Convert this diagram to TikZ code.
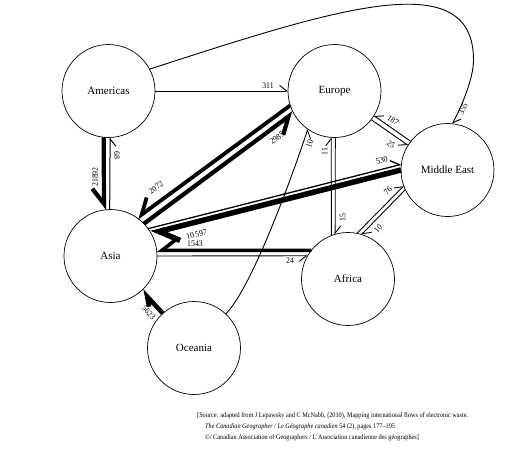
\documentclass[tikz,border=0pt]{standalone}
\usepackage{fontspec}
\setmainfont{Liberation Serif}
\newfontfamily\capfont[FakeStretch=0.89]{Liberation Serif}
\newfontfamily\numfont[FakeStretch=0.92]{Liberation Serif}
\usetikzlibrary{arrows.meta}
\begin{document}
\begin{tikzpicture}[x=1pt,y=-1pt,
  region/.style={circle, draw, line width=0.7pt, minimum size=93pt, inner sep=0pt, outer sep=0pt, font=\fontsize{11}{13}\selectfont},
  fl/.style={line width=#1},
  hl/.style={-{Straight Barb[harpoon, length=5pt 2.4, width=8pt 3.6]}},
  hr/.style={-{Straight Barb[harpoon, swap, length=5pt 2.4, width=8pt 3.6]}},
  hsmall/.style={-{Straight Barb[harpoon, length=9pt, width=11pt]}},
  num/.style={font=\numfont\fontsize{8.5}{10}\selectfont, inner sep=0pt},
  captext/.style={anchor=base west, font=\capfont\fontsize{7}{8}\selectfont, inner sep=0pt},
]
\fill[white] (0,0) rectangle (509,451);
\useasboundingbox (0,0) rectangle (509,451);

\node[region] (Am) at (108.5,91) {Americas};
\node[region] (Eu) at (334.5,91) {Europe};
\node[region] (ME) at (447.5,170) {Middle East};
\node[region] (As) at (110.5,256) {Asia};
\node[region] (Af) at (348,279) {Africa};
\node[region] (Oc) at (194,348) {Oceania};

% flows
\draw[fl=0.9, hl] (Am.0) -- (Eu.180);       % 311
\draw[fl=4.2, hr] (Am.264) -- (As.98);      % 21892
\draw[fl=1, hr] (As.91) -- (Am.272);        % 68
\draw[fl=3.8, hr] (Eu.198) -- (As.55);      % 2072
\draw[fl=4.2, hr] (As.44) -- (Eu.208);      % 2985
\draw[fl=1.3, hl] (As.36) -- (ME.173);      % 530
\draw[fl=5.5, hl] (ME.180) -- (As.29);      % 10597
\draw[fl=3.6, hr] (Af.142) -- (As.7);       % 1543
\draw[fl=0.9, hr] (As.0) -- (Af.150);       % 24
\draw[fl=0.9, hr] (ME.142) -- (Eu.328);     % 187
\draw[fl=0.9, hr] (Eu.322) -- (ME.148);     % 25
\draw[fl=0.9, hl] (Af.111) -- (Eu.266);     % 11
\draw[fl=0.9, hl] (Eu.271) -- (Af.106);     % 15
\draw[fl=0.9, hl] (Af.79) -- (ME.200);      % 76
\draw[fl=0.9, hl] (ME.205) -- (Af.73);      % 10
\draw[fl=4.5, hsmall] (Oc.132) -- (As.312); % 5623
\draw[fl=0.9, hr] (Oc.47) .. controls +(25,-25) and +(-19,57) .. (Eu.235); % 10
\draw[fl=0.9, hl] (Am.28) .. controls (340.2,7.2) and (473.5,-35) .. (473.5,60)
   .. controls (473.5,80) and (459.7,110.1) .. (ME.84); % 355

% labels
\node[num] (l311) at (268,86) {311};
\node[num, rotate=90] (l21892) at (95,177) {21892};
\node[num, rotate=-90] (l68) at (117,155) {68};
\node[num, rotate=36] (l2072) at (156,187.5) {2072};
\node[num, rotate=36] (l2985) at (277,138) {2985};
\node[num, rotate=14] (l10597) at (196.5,234.5) {10\,597};
\node[num] (l1543) at (195,243.3) {1543};
\node[num, rotate=15] (l530) at (381.7,160) {530};
\node[num] (l24) at (290,260.5) {24};
\node[num, rotate=-35] (l187) at (393,120.5) {187};
\node[num, rotate=-35] (l25) at (391,144) {25};
\node[num, rotate=90] (l11) at (324.5,151.7) {11};
\node[num, rotate=90] (l15) at (342.5,217.5) {15};
\node[num, rotate=72] (l10c) at (309.8,144) {10};
\node[num, rotate=45] (l76) at (388,190.5) {76};
\node[num, rotate=45] (l10b) at (378.2,229) {10};
\node[num, rotate=-48] (l5623) at (148.8,312.3) {5623};
\node[num, rotate=65] (l355) at (463,109) {355};

% caption
\node[captext] (cap1) at (197,417) {[Source: adapted from J Lepawsky and C McNabb, (2010), Mapping international flows of electronic waste.};
\node[captext] (cap2) at (205,428) {\textit{The Canadian Geographer / Le Géographe canadien} 54 (2), pages 177–195};
\node[captext] (cap3) at (205,439) {©/ Canadian Association of Geographers / L’Association canadienne des géographes]};
\end{tikzpicture}
\end{document}
